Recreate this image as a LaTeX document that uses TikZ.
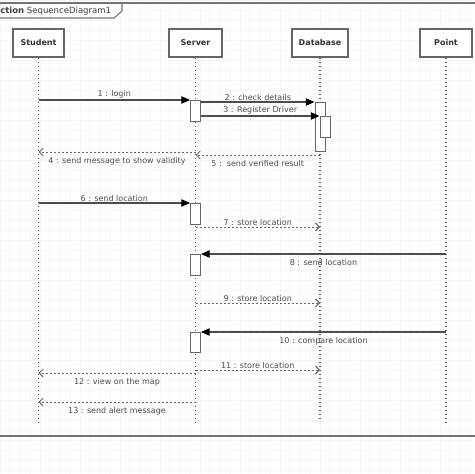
\documentclass[tikz,border=0pt]{standalone}
\usepackage{fontspec}
\setmainfont{DejaVu Sans}
\usetikzlibrary{arrows.meta,positioning}

\begin{document}
\begin{tikzpicture}[x=0.75pt,y=-0.75pt,
    head/.style={draw=black!60, line width=0.9pt, fill=white, minimum height=21pt, inner sep=0pt,
      font=\bfseries\fontsize{6}{7}\selectfont, text=black!80},
    act/.style={draw=black!60, line width=0.7pt, fill=white, minimum width=7.5pt, inner sep=0pt, anchor=north},
    life/.style={black!65, line width=1pt, dash pattern=on 1pt off 2pt},
    msg/.style={black!70, line width=0.8pt, -{Triangle[length=6.5pt,width=5.5pt,color=black]}},
    ret/.style={black!60, line width=0.7pt, dash pattern=on 1.5pt off 1.5pt, -{Straight Barb[length=3pt,width=6pt]}},
    lbl/.style={font=\fontsize{6}{7}\selectfont, text=black!70, inner sep=0.8pt},
    lblbelow/.style={lbl, below, inner sep=0pt, yshift=-3.5pt}
  ]
    \useasboundingbox (0,0) rectangle (474,474);

    % Background grid
    \fill[white] (0,0) rectangle (474,474);
    \draw[black!4, line width=0.4pt, step=7.5pt] (0,0) grid (474,474);

    % Frame and its tab
    \draw[black!55, line width=1.1pt] (-5,3) rectangle (480,436);
    \draw[black!55, line width=0.8pt] (-5,18) -- (114,18) -- (122,11) -- (122,3);
    \node[anchor=west, inner sep=0pt, font=\fontsize{6.4}{7}\selectfont, text=black!75] (title) at (0,11)
      {\textbf{ction} SequenceDiagram1};

    % Lifeline heads
    \node[head, minimum width=38.25pt] (student) at (38.5,43) {Student};
    \node[head, minimum width=39.75pt] (server) at (195.5,43) {Server};
    \node[head, minimum width=42pt] (database) at (320,43) {Database};
    \node[head, minimum width=39pt] (point) at (446,43) {Point};

    % Ends of the lifelines
    \coordinate (student-end) at (38.5,423);
    \coordinate (server-end) at (195.5,423);
    \coordinate (database-end) at (320,418);
    \coordinate (point-end) at (446,423);

    % Draw the lifelines
    \draw[life] (student.south) -- (student-end);
    \draw[life] (server.south) -- (server-end);
    \draw[life] (database.south) -- (database-end);
    \draw[life] (point.south) -- (point-end);

    % Activation bars
    \node[act, minimum height=15.75pt] (a1) at (195.5,100) {};
    \node[act, minimum height=36.75pt] (d1) at (320,102) {};
    \node[act, minimum height=15.75pt] (d2) at (325,116) {};
    \node[act, minimum height=15.75pt] (a2) at (195.5,203) {};
    \node[act, minimum height=15.75pt] (a3) at (195.5,254) {};
    \node[act, minimum height=15pt] (a4) at (195.5,332) {};

    % Rows of the return messages
    \coordinate (m4) at (195.5,152);
    \coordinate (m5) at (320,155);
    \coordinate (m7) at (195.5,227);
    \coordinate (m9) at (195.5,303);
    \coordinate (m11) at (195.5,370);
    \coordinate (m12) at (195.5,373);
    \coordinate (m13) at (195.5,402);

    % Draw messages
    \draw[msg] (student |- a1.north) -- (a1.north west) node[lbl, midway, above] {1 : login};
    \draw[msg] (a1.east |- d1.north) -- (d1.north west) node[lbl, midway, above] {2 : check details};
    \draw[msg] (a1.east |- d2.north) -- (d2.north west) node[lbl, midway, above] {3 : Register Driver};
    \draw[ret] (m4) -- (student |- m4) node[lblbelow, midway] {4 : send message to show validity};
    \draw[ret] (m5) -- (server.south |- m5) node[lblbelow, midway] {5 :\ \ send verified result};
    \draw[msg] (student |- a2.north) -- (a2.north west) node[lbl, midway, above] {6 : send location};
    \draw[ret] (m7) -- (database |- m7) node[lbl, midway, above] {7 : store location};
    \draw[msg] (point |- a3.north) -- (a3.north east) node[lblbelow, midway] {8 : send location};
    \draw[ret] (m9) -- (database |- m9) node[lbl, midway, above] {9 : store location};
    \draw[msg] (point |- a4.north) -- (a4.north east) node[lblbelow, midway] {10 : compare location};
    \draw[ret] (m11) -- (database |- m11) node[lbl, midway, above] {11 : store location};
    \draw[ret] (m12) -- (student |- m12) node[lblbelow, midway] {12 : view on the map};
    \draw[ret] (m13) -- (student |- m13) node[lblbelow, midway] {13 : send alert message};
\end{tikzpicture}
\end{document}
